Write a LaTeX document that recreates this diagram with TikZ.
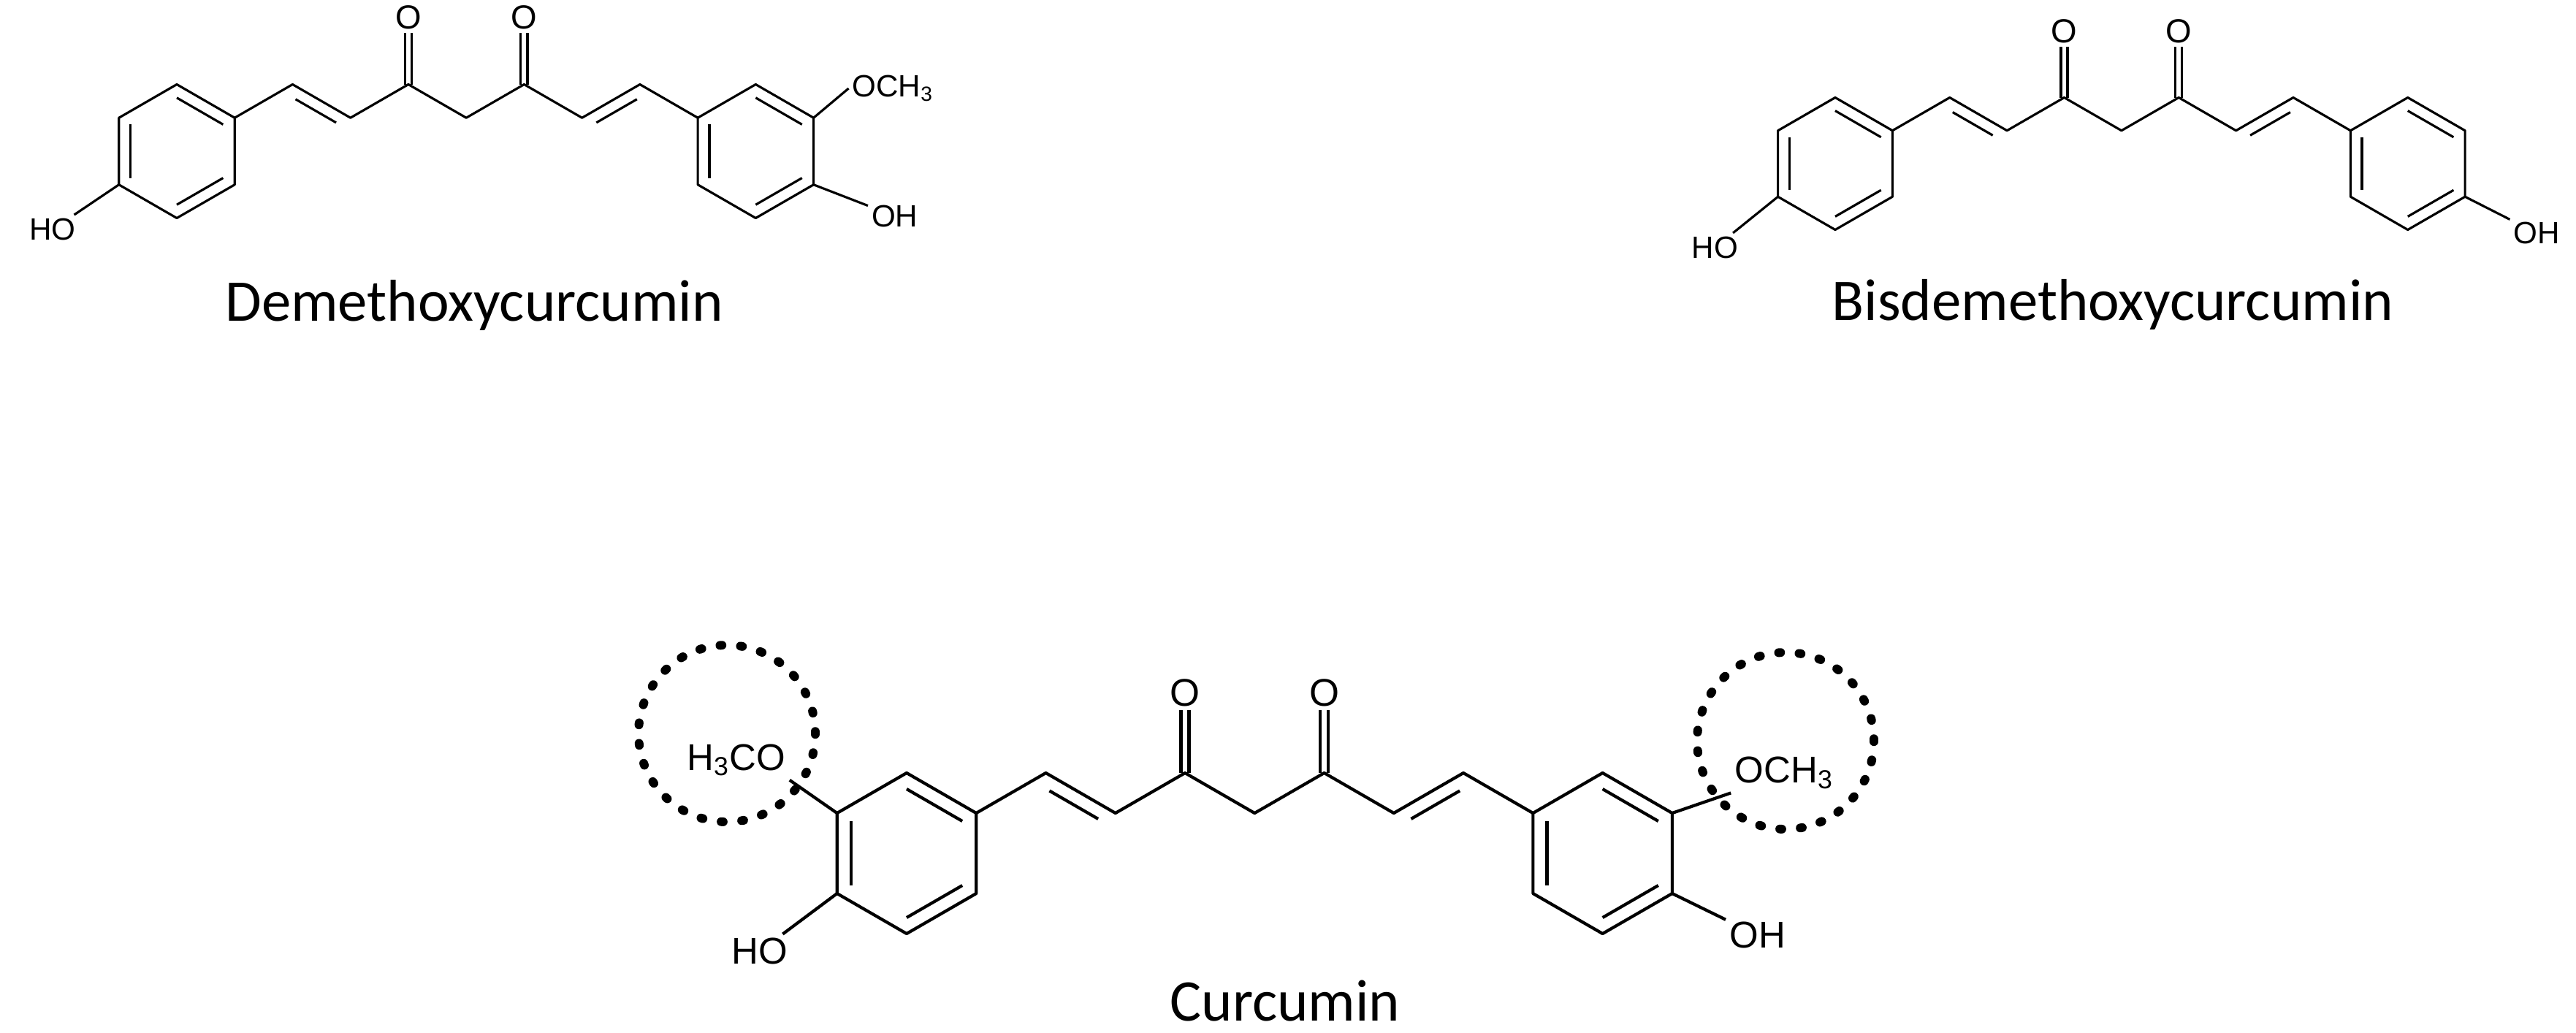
\documentclass[tikz,border=0pt]{standalone}
\usepackage{fontspec}
\setmainfont{Liberation Sans}
\newfontfamily\capfont{Carlito}
\usetikzlibrary{calc}
\tikzset{
  atom/.style={inner sep=1pt, font=\fontsize{#1}{#1}\selectfont},
  atom/.default=12,
  caption/.style={font=\capfont\fontsize{23}{27}\selectfont, inner sep=0pt},
  dotring/.style={line width=3.4pt, dash pattern=on 0.8pt off 7.2pt, line cap=round},
}
\newcommand{\molskel}{%
  \coordinate (rc) at (0,0);
  \coordinate (rt) at (0,1); \coordinate (rur) at (0.866,0.5); \coordinate (rlr) at (0.866,-0.5);
  \coordinate (rb) at (0,-1); \coordinate (rll) at (-0.866,-0.5); \coordinate (rul) at (-0.866,0.5);
  \coordinate (k1) at (1.732,1); \coordinate (k2) at (2.598,0.5); \coordinate (k3) at (3.464,1);
  \coordinate (k4) at (4.330,0.5); \coordinate (k5) at (5.196,1); \coordinate (k6) at (6.062,0.5);
  \coordinate (k7) at (6.928,1);
  \coordinate (sc) at (8.660,0);
  \coordinate (sul) at (7.794,0.5); \coordinate (st) at (8.660,1); \coordinate (sur) at (9.526,0.5);
  \coordinate (slr) at (9.526,-0.5); \coordinate (sb) at (8.660,-1); \coordinate (sll) at (7.794,-0.5);
  \node[atom=\osize] (o3) at (3.464,2) {O};
  \node[atom=\osize] (o5) at (5.196,2) {O};
  \draw (rt)--(rur)--(rlr)--(rb)--(rll)--(rul)--cycle;
  \draw ($(rc)!0.8!(rt)$)--($(rc)!0.8!(rur)$);
  \draw ($(rc)!0.8!(rul)$)--($(rc)!0.8!(rll)$);
  \draw ($(rc)!0.8!(rlr)$)--($(rc)!0.8!(rb)$);
  \draw (st)--(sur)--(slr)--(sb)--(sll)--(sul)--cycle;
  \draw ($(sc)!0.8!(st)$)--($(sc)!0.8!(sur)$);
  \draw ($(sc)!0.8!(sul)$)--($(sc)!0.8!(sll)$);
  \draw ($(sc)!0.8!(slr)$)--($(sc)!0.8!(sb)$);
  \draw (rur)--(k1)--(k2)--(k3)--(k4)--(k5)--(k6)--(k7)--(sul);
  \draw ($(k1)!0.15!(k2)+(-0.085,-0.147)$)--($(k1)!0.85!(k2)+(-0.085,-0.147)$);
  \draw ($(k6)!0.15!(k7)+(0.085,-0.147)$)--($(k6)!0.85!(k7)+(0.085,-0.147)$);
  \draw ($(k3)+(-0.05,0)$)--($(o3.south)+(-0.05,0)$);
  \draw ($(k3)+(0.05,0)$)--($(o3.south)+(0.05,0)$);
  \draw ($(k5)+(-0.05,0)$)--($(o5.south)+(-0.05,0)$);
  \draw ($(k5)+(0.05,0)$)--($(o5.south)+(0.05,0)$);
}
\begin{document}
\begin{tikzpicture}[line join=round]
\useasboundingbox (0,0) rectangle (35.26,-14.13);
% Demethoxycurcumin
\begin{scope}[shift={(2.42,-2.07)}, x=0.915cm, y=0.915cm, line width=0.9pt]
  \def\osize{13}
  \molskel
  \node[atom=12] (d-ho) at (-1.86,-1.17) {HO};
  \node[atom=12] (d-oh) at (10.74,-0.97) {OH};
  \node[atom=12, anchor=west] (d-ome) at (10.05,0.94) {OCH\textsubscript{3}};
  \draw (rll)--(d-ho);
  \draw (slr)--(d-oh);
  \draw (sur)--(d-ome.west);
\end{scope}
\node[caption] (dcap) at (6.49,-4.18) {Demethoxycurcumin};
% Bisdemethoxycurcumin
\begin{scope}[shift={(25.12,-2.24)}, x=0.905cm, y=0.905cm, line width=0.9pt]
  \def\osize{13}
  \molskel
  \node[atom=12] (b-ho) at (-1.82,-1.27) {HO};
  \node[atom=12] (b-oh) at (10.61,-1.05) {OH};
  \draw (rll)--(b-ho);
  \draw (slr)--(b-oh);
\end{scope}
\node[caption] (bcap) at (28.92,-4.17) {Bisdemethoxycurcumin};
% Curcumin
\begin{scope}[shift={(12.41,-11.68)}, x=1.10cm, y=1.10cm, line width=1.2pt]
  \def\osize{15}
  \molskel
  \node[atom=14.5] (c-meo) at (-2.12,1.16) {H\textsubscript{3}CO};
  \node[atom=14.5] (c-ho) at (-1.83,-1.22) {HO};
  \node[atom=14.5] (c-ome) at (10.92,1.00) {OCH\textsubscript{3}};
  \node[atom=14.5] (c-oh) at (10.59,-1.02) {OH};
  \draw (rul)--(c-meo.south east);
  \draw (rll)--(c-ho);
  \draw (sur)--(c-ome.south west);
  \draw (slr)--(c-oh);
\end{scope}
\draw[dotring] (9.95,-10.04) circle (1.21);
\draw[dotring] (24.44,-10.14) circle (1.21);
\node[caption] (ccap) at (17.59,-13.70) {Curcumin};
\end{tikzpicture}
\end{document}
